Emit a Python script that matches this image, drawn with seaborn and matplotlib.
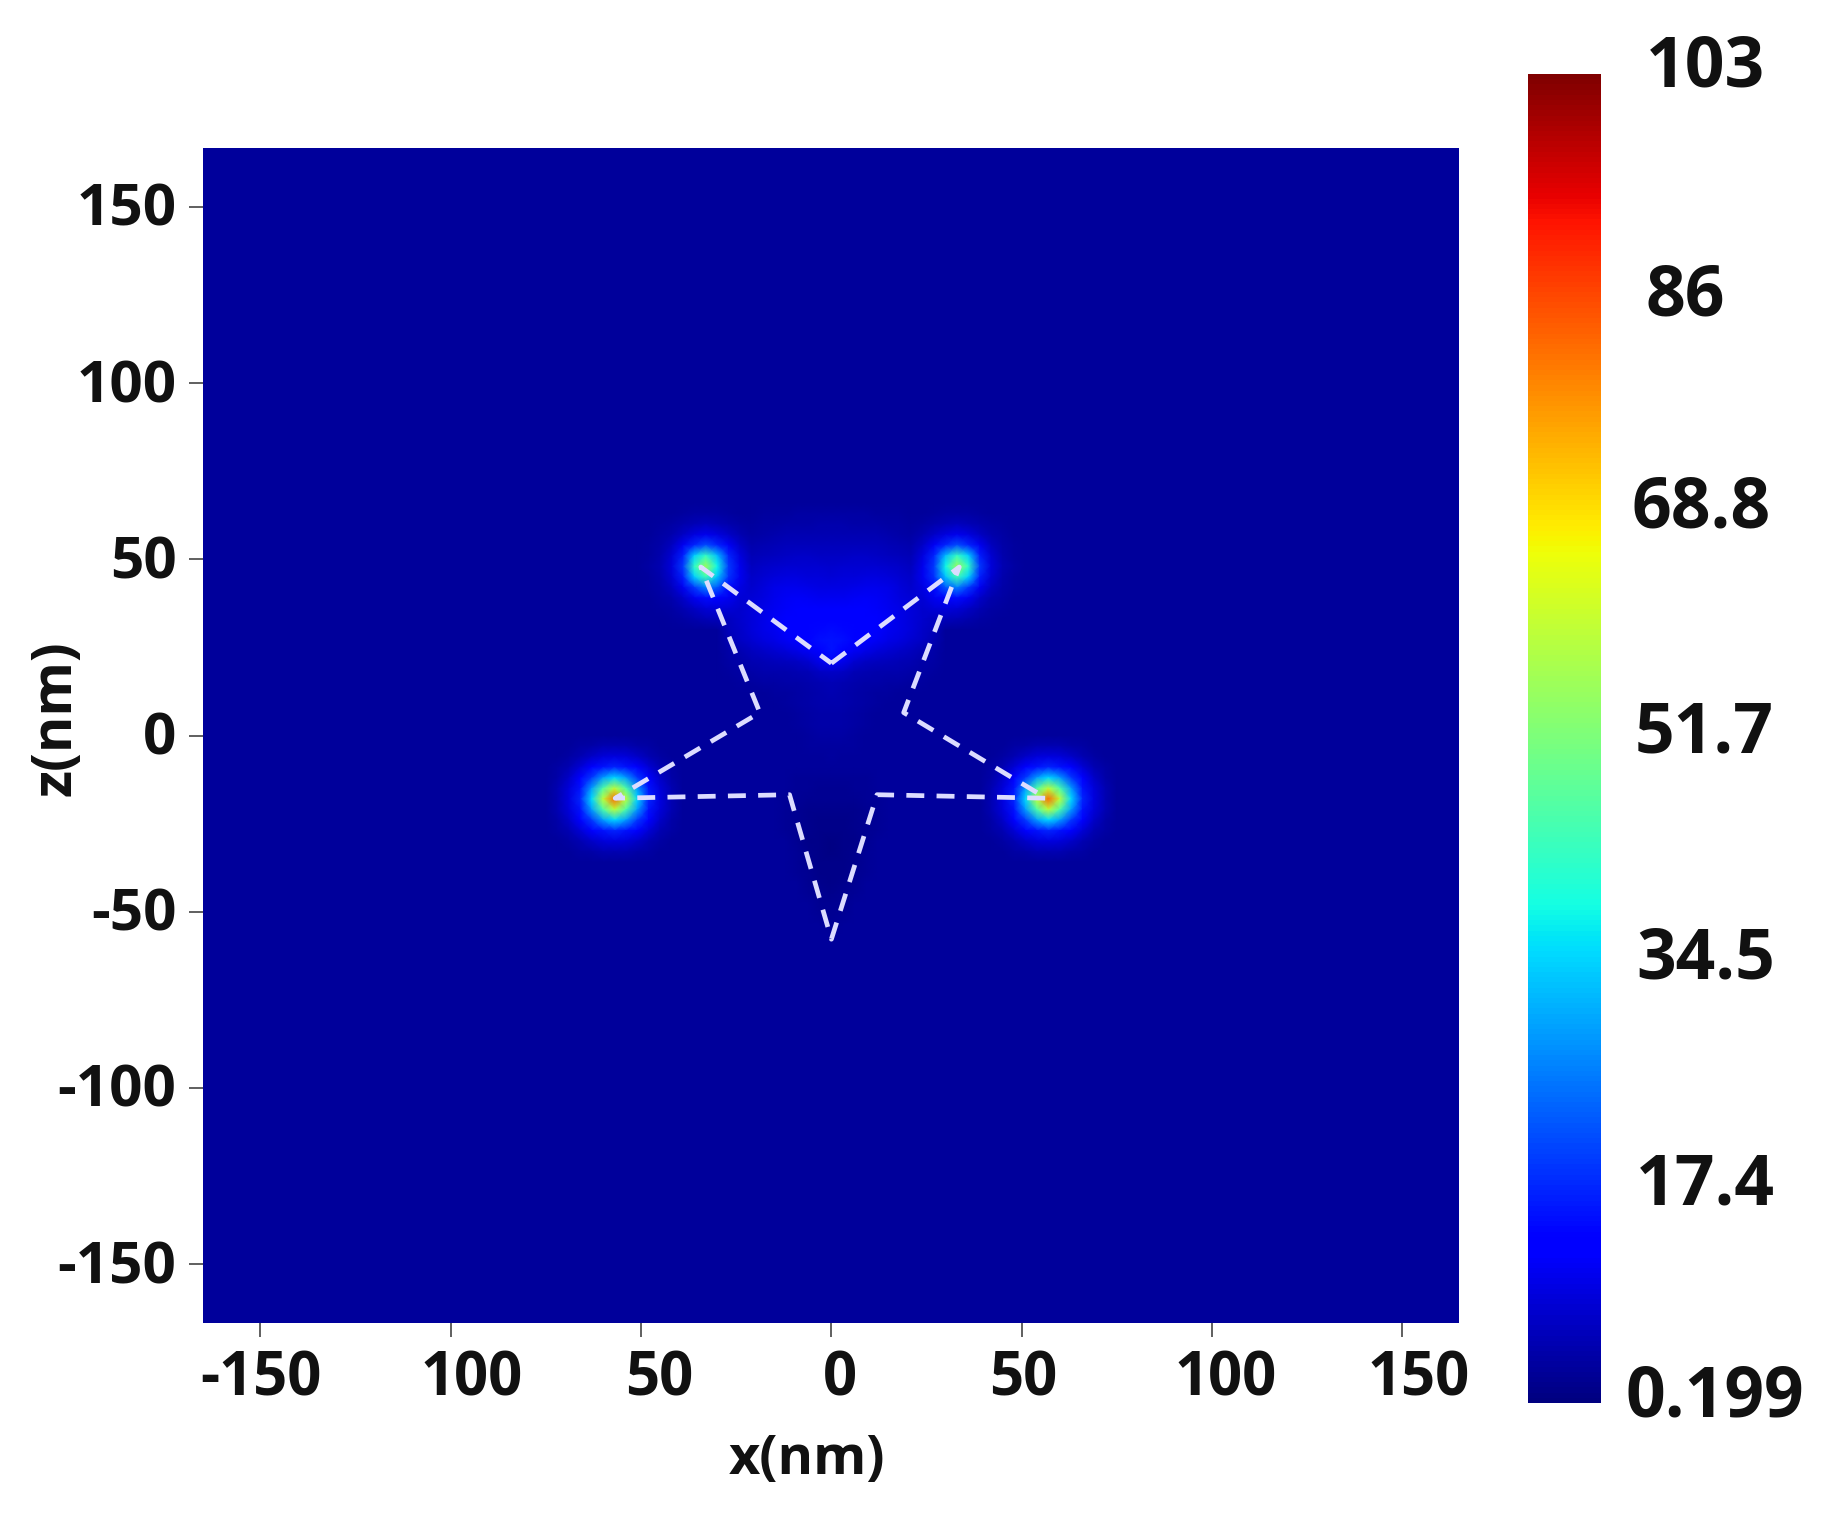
import numpy as np
import pandas as pd
import matplotlib
matplotlib.use('Agg')
import matplotlib.pyplot as plt
from matplotlib.transforms import Affine2D
import seaborn as sns

# grid of the field, nm
x_nm = np.arange(-168, 169, 3)
z_nm = np.arange(168, -169, -3)
background = 2.7

# right half of the star region, mirrored onto the left
# columns are x = 0, 3 ... 27, rows are z = 66, 63 ... -54
star_region = [
    [3.0, 3.0, 3.0, 2.9, 2.9, 2.9, 2.8, 2.8, 2.7, 2.7],
    [3.6, 3.6, 3.5, 3.5, 3.4, 3.3, 3.1, 3.0, 2.9, 2.8],
    [4.3, 4.3, 4.2, 4.1, 4.0, 3.8, 3.6, 3.4, 3.1, 2.9],
    [5.0, 5.0, 5.0, 5.0, 4.8, 4.5, 4.2, 3.8, 3.4, 3.0],
    [5.8, 5.8, 5.8, 5.8, 5.6, 5.3, 4.9, 4.4, 3.8, 3.3],
    [6.6, 6.6, 6.7, 6.8, 6.6, 6.2, 5.7, 5.1, 4.4, 3.7],
    [7.4, 7.5, 7.6, 7.8, 7.7, 7.4, 6.8, 6.0, 5.0, 4.3],
    [8.2, 8.3, 8.6, 8.9, 8.9, 8.5, 7.8, 6.8, 5.7, 4.9],
    [9.2, 9.4, 9.8, 10.2, 10.0, 9.5, 8.6, 7.4, 6.4, 5.5],
    [10.4, 10.6, 11.0, 11.2, 10.8, 10.0, 9.0, 8.0, 7.0, 5.8],
    [11.8, 12.0, 12.2, 12.0, 11.4, 10.5, 9.6, 8.5, 7.4, 6.0],
    [13.0, 13.0, 12.8, 12.2, 11.5, 10.8, 9.8, 8.6, 7.4, 6.0],
    [14.0, 13.6, 13.2, 12.5, 11.5, 10.6, 9.5, 8.3, 7.0, 5.6],
    [15.0, 14.3, 13.3, 12.0, 10.8, 9.8, 8.8, 7.5, 6.3, 5.0],
    [15.0, 13.0, 11.0, 9.6, 8.6, 7.8, 7.0, 6.0, 5.0, 4.2],
    [13.0, 10.0, 7.5, 6.5, 6.2, 5.8, 5.4, 4.9, 4.2, 3.7],
    [7.0, 6.4, 5.2, 4.7, 4.6, 4.6, 4.4, 4.0, 3.6, 3.2],
    [5.2, 5.0, 4.5, 4.1, 3.9, 3.7, 3.6, 3.3, 3.1, 2.9],
    [4.8, 4.6, 4.1, 3.8, 3.4, 3.1, 3.0, 2.9, 2.8, 2.7],
    [4.5, 4.3, 3.9, 3.5, 3.1, 2.9, 2.8, 2.7, 2.7, 2.7],
    [4.2, 4.1, 3.7, 3.3, 2.9, 2.7, 2.7, 2.7, 2.7, 2.7],
    [4.0, 3.9, 3.5, 3.1, 2.8, 2.7, 2.7, 2.7, 2.7, 2.7],
    [3.7, 3.6, 3.3, 3.0, 2.7, 2.7, 2.7, 2.7, 2.7, 2.7],
    [3.4, 3.3, 3.1, 2.9, 2.7, 2.7, 2.7, 2.7, 2.7, 2.7],
    [3.1, 3.0, 2.9, 2.8, 2.7, 2.7, 2.7, 2.7, 2.7, 2.7],
    [2.8, 2.8, 2.8, 2.7, 2.7, 2.7, 2.7, 2.7, 2.7, 2.7],
    [2.5, 2.5, 2.5, 2.6, 2.7, 2.7, 2.7, 2.7, 2.7, 2.7],
    [2.2, 2.2, 2.3, 2.5, 2.7, 2.7, 2.7, 2.7, 2.7, 2.7],
    [1.9, 1.9, 2.1, 2.3, 2.6, 2.7, 2.7, 2.7, 2.7, 2.7],
    [1.6, 1.6, 1.8, 2.2, 2.6, 2.7, 2.7, 2.7, 2.7, 2.7],
    [1.3, 1.4, 1.6, 2.1, 2.6, 2.7, 2.7, 2.7, 2.7, 2.7],
    [1.1, 1.2, 1.5, 2.1, 2.6, 2.7, 2.7, 2.7, 2.7, 2.7],
    [1.0, 1.1, 1.4, 2.2, 2.7, 2.7, 2.7, 2.7, 2.7, 2.7],
    [1.0, 1.1, 1.5, 2.3, 2.7, 2.7, 2.7, 2.7, 2.7, 2.7],
    [1.1, 1.2, 1.7, 2.5, 2.7, 2.7, 2.7, 2.7, 2.7, 2.7],
    [1.2, 1.4, 1.9, 2.6, 2.7, 2.7, 2.7, 2.7, 2.7, 2.7],
    [1.4, 1.7, 2.2, 2.7, 2.7, 2.7, 2.7, 2.7, 2.7, 2.7],
    [1.6, 2.0, 2.5, 2.7, 2.7, 2.7, 2.7, 2.7, 2.7, 2.7],
    [1.9, 2.2, 2.7, 2.7, 2.7, 2.7, 2.7, 2.7, 2.7, 2.7],
    [2.2, 2.5, 2.7, 2.7, 2.7, 2.7, 2.7, 2.7, 2.7, 2.7],
    [2.5, 2.7, 2.7, 2.7, 2.7, 2.7, 2.7, 2.7, 2.7, 2.7],
]

# hot spot at the lower left tip, +-15 nm around its centre
lower_tip = [
    [2.7, 3.0, 3.5, 4.2, 4.8, 5.0, 4.8, 4.2, 3.5, 3.0, 2.7],
    [3.0, 3.8, 5.0, 6.8, 8.4, 9.0, 8.4, 6.8, 5.0, 3.8, 3.0],
    [3.5, 5.0, 8.0, 11.5, 15.0, 17.0, 15.0, 11.5, 8.0, 5.0, 3.5],
    [4.2, 6.8, 11.5, 19.0, 29.0, 35.0, 29.0, 19.0, 11.5, 6.8, 4.2],
    [4.8, 8.4, 15.0, 29.0, 46.0, 60.0, 46.0, 29.0, 15.0, 8.4, 4.8],
    [5.0, 9.0, 17.0, 35.0, 60.0, 82.0, 60.0, 35.0, 17.0, 9.0, 5.0],
    [4.8, 8.4, 15.0, 29.0, 46.0, 60.0, 46.0, 29.0, 15.0, 8.4, 4.8],
    [4.2, 6.8, 11.5, 19.0, 29.0, 35.0, 29.0, 19.0, 11.5, 6.8, 4.2],
    [3.5, 5.0, 8.0, 11.5, 15.0, 17.0, 15.0, 11.5, 8.0, 5.0, 3.5],
    [3.0, 3.8, 5.0, 6.8, 8.4, 9.0, 8.4, 6.8, 5.0, 3.8, 3.0],
    [2.7, 3.0, 3.5, 4.2, 4.8, 5.0, 4.8, 4.2, 3.5, 3.0, 2.7],
]

# hot spot at the upper left tip, +-15 nm around its centre
upper_tip = [
    [2.7, 2.8, 3.0, 3.3, 3.6, 3.8, 3.6, 3.3, 3.0, 2.8, 2.7],
    [2.8, 3.1, 3.6, 4.4, 5.4, 5.9, 5.4, 4.5, 3.6, 3.1, 2.8],
    [3.0, 3.5, 4.5, 6.5, 8.8, 10.0, 8.8, 6.8, 4.9, 3.6, 3.0],
    [3.2, 4.0, 6.0, 10.5, 17.0, 21.0, 17.0, 11.0, 6.8, 4.4, 3.4],
    [3.4, 4.6, 7.6, 16.0, 34.0, 43.0, 32.0, 17.0, 9.0, 5.4, 3.8],
    [3.5, 4.8, 8.4, 19.0, 42.0, 56.0, 38.0, 19.0, 10.0, 6.0, 4.2],
    [3.4, 4.6, 7.6, 16.0, 34.0, 44.0, 33.0, 18.0, 10.5, 6.4, 4.5],
    [3.2, 4.0, 6.0, 10.5, 19.0, 26.0, 22.0, 14.0, 9.2, 6.4, 4.8],
    [3.0, 3.5, 4.5, 6.8, 10.5, 14.0, 13.0, 10.5, 8.0, 6.2, 5.0],
    [2.8, 3.1, 3.8, 5.0, 6.5, 8.0, 8.6, 8.0, 6.8, 5.8, 4.8],
    [2.7, 2.8, 3.1, 3.8, 4.5, 5.2, 5.8, 5.8, 5.6, 5.0, 4.5],
]
lower_tip_xz = (-57, -18)
upper_tip_xz = (-33, 48)

# dashed star outline, nm
star_x = [0, 33.6, 19, 56.5, 12, 0, -11, -56.8, -18.8, -34.3, 0]
star_z = [20.5, 47.8, 6.5, -17.8, -16.8, -57.8, -16.8, -17.8, 6.5, 47.8, 20.5]

x_ticks = [-150, -100, -50, 0, 50, 100, 150]
x_tick_labels = ['-150', '100', '50', '0', '50', '100', '150']
z_ticks = [150, 100, 50, 0, -50, -100, -150]
z_tick_labels = ['150', '100', '50', '0', '-50', '-100', '-150']
cbar_ticks = [0.199, 17.4, 34.5, 51.7, 68.8, 86, 103]
cbar_labels = ['0.199', '17.4', '34.5', '51.7', '68.8', '86', '103']


def build_field():
    field = np.full((len(z_nm), len(x_nm)), background)
    region = np.array(star_region)
    r0 = list(z_nm).index(66)
    c0 = list(x_nm).index(0)
    for i in range(region.shape[1]):
        field[r0:r0 + region.shape[0], c0 + i] = region[:, i]
        field[r0:r0 + region.shape[0], c0 - i] = region[:, i]
    for patch, (sx, sz) in [(lower_tip, lower_tip_xz), (upper_tip, upper_tip_xz)]:
        patch = np.array(patch)
        r = list(z_nm).index(sz) - 5
        left = list(x_nm).index(sx) - 5
        right = list(x_nm).index(-sx) - 5
        field[r:r + 11, left:left + 11] = np.maximum(field[r:r + 11, left:left + 11], patch)
        field[r:r + 11, right:right + 11] = np.maximum(field[r:r + 11, right:right + 11], patch[:, ::-1])
    return pd.DataFrame(field, index=z_nm, columns=x_nm)


def to_col(x):
    return (np.asarray(x, dtype=float) - x_nm[0]) / 3.0


def to_row(z):
    return (z_nm[0] - np.asarray(z, dtype=float)) / 3.0


def shift(label, dx, dy):
    label.set_transform(label.get_transform() + Affine2D().translate(dx, dy))


W, H = 1840, 1525
sns.set_theme(style='ticks')
plt.rcParams['font.family'] = ['Open Sans', 'DejaVu Sans']
plt.rcParams['font.weight'] = 'bold'

fig = plt.figure(figsize=(W / 100, H / 100), dpi=100)
ax = fig.add_axes([203 / W, 1 - 1323 / H, 1256 / W, 1175 / H])
cax = fig.add_axes([1528 / W, 1 - 1403 / H, 73 / W, 1329 / H])

sns.heatmap(build_field(), ax=ax, cbar_ax=cax, cmap='jet', vmin=0.199, vmax=103,
            shading='gouraud', xticklabels=False, yticklabels=False)

ax.set_xlim(to_col(-165.1), to_col(164.9))
ax.set_ylim(to_row(-166.7), to_row(166.7))

ax.plot(to_col(star_x), to_row(star_z), color='#dcdcff', lw=3.4, dashes=(3.8, 2.6))

ax.set_xticks(to_col(x_ticks), x_tick_labels, rotation=0, fontsize=43, fontweight='bold')
ax.set_yticks(to_row(z_ticks), z_tick_labels, rotation=0, fontsize=42, fontweight='bold')
ax.tick_params(axis='both', length=10, width=1.2, color='#444444', labelcolor='#111111', pad=9)
for lab, dx in zip(ax.get_xticklabels(), [0, 21, 18, 9, 2, 14, 16]):
    shift(lab, dx, 0)
for lab in ax.get_yticklabels():
    shift(lab, 0, 3)

ax.set_xlabel('x(nm)', fontsize=39, fontweight='bold', color='#111111')
ax.set_ylabel('z(nm)', fontsize=40, fontweight='bold', color='#111111')
ax.xaxis.set_label_coords(0.481, -0.094)
ax.yaxis.set_label_coords(-0.095, 0.515)

cax.set_yticks(cbar_ticks, cbar_labels, fontsize=50, fontweight='bold', color='#111111')
cax.tick_params(axis='y', length=0, pad=30)
for lab, dx, dy in zip(cax.get_yticklabels(), [-17, -7, -6, -8, -11, 3, 3], [13, 3, 8, 11, 15, 5, 14]):
    shift(lab, dx, dy)

fig.savefig('out.png', dpi=100)
plt.close(fig)
